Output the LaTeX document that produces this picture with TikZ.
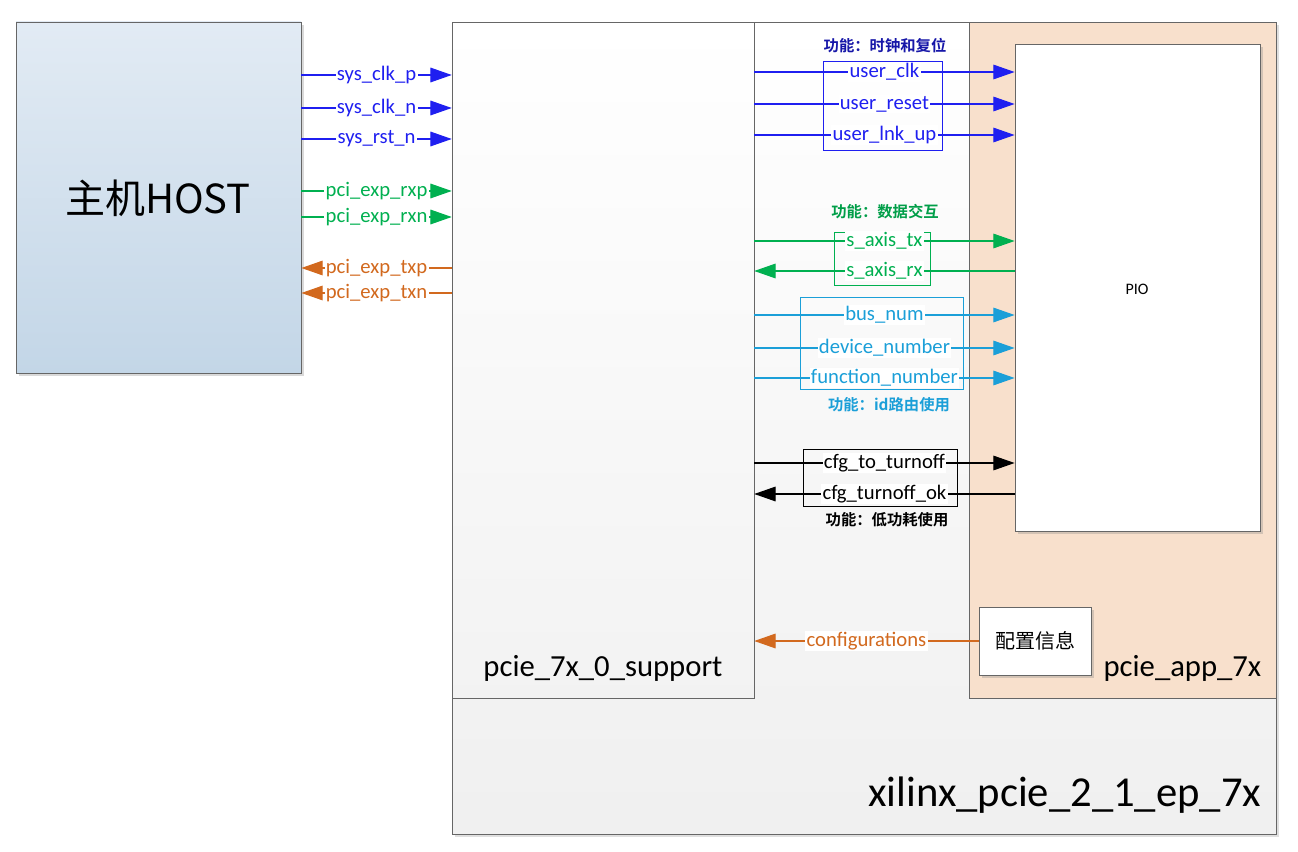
\documentclass[tikz,border=0pt]{standalone}
\usepackage{fontspec}
\setmainfont{Carlito}
\newfontfamily\cjk{Noto Sans CJK SC}[BoldFont={Noto Sans CJK SC Bold}]
\usetikzlibrary{arrows.meta,shadows}
\definecolor{cblue}{HTML}{1F1FF0}
\definecolor{cgreen}{HTML}{00B050}
\definecolor{corange}{HTML}{D2691E}
\definecolor{ccyan}{HTML}{1B9FD8}
\definecolor{peach}{HTML}{F8E0CC}
\definecolor{hosttop}{HTML}{E2EBF4}
\definecolor{hostbot}{HTML}{C3D6E7}
\begin{document}
\begin{tikzpicture}[x=0.75pt,y=-0.75pt,
  box/.style={draw=gray!80!black,line width=0.6pt,inner sep=0pt},
  sig/.style={line width=0.8pt,-{Triangle[length=16pt,width=11pt]}},
  lab/.style={fill=white,inner sep=1pt,font=\fontsize{15.5}{16}\selectfont},
  ttl/.style={font=\cjk\bfseries\fontsize{11.5}{12}\selectfont},
  grp/.style={draw,line width=0.6pt}]
\useasboundingbox (0,0) rectangle (1298,852);
% boxes
\path[box,top color=white,bottom color=gray!12,drop shadow={opacity=0.25,shadow xshift=2pt,shadow yshift=-2pt}]
  (452,22) rectangle (1276,834);
\node[anchor=south east,font=\fontsize{32}{34}\selectfont] (xl) at (1266,818) {xilinx\_pcie\_2\_1\_ep\_7x};
\path[box,top color=white,bottom color=gray!10] (452,22) rectangle (754,698);
\node (sup) at (603,360) [minimum width=302*0.75pt,minimum height=676*0.75pt] {};
\node[anchor=south,font=\fontsize{23}{25}\selectfont] (supl) at (603,686) {pcie\_7x\_0\_support};
\path[box,fill=peach] (969,22) rectangle (1276,698);
\node[anchor=south east,font=\fontsize{23}{25}\selectfont] (appl) at (1266,686) {pcie\_app\_7x};
\node[box,fill=white,drop shadow={opacity=0.3,shadow xshift=2pt,shadow yshift=-2pt},minimum width=245*0.75pt,minimum height=487*0.75pt] (pio) at (1137.5,287.5) {};
\node[font=\fontsize{12}{13}\selectfont] at (1137,289) {PIO};
\node[box,fill=white,drop shadow={opacity=0.3,shadow xshift=2pt,shadow yshift=-2pt},minimum width=112*0.75pt,minimum height=68*0.75pt,font=\cjk\fontsize{15}{16}\selectfont] (cfg) at (1035,641) {配置信息};
\node[box,top color=hosttop,bottom color=hostbot,drop shadow={opacity=0.3,shadow xshift=2pt,shadow yshift=-2pt},minimum width=285*0.75pt,minimum height=351*0.75pt] (host) at (158.5,197.5) {};
\node[font=\cjk\fontsize{30}{32}\selectfont] at (158,198) {主机HOST};
% left signals
\foreach \y/\t in {75/sys\_clk\_p,108/sys\_clk\_n,139/sys\_rst\_n}
  \draw[sig,cblue] (host.east|-0,\y) -- node[lab]{\t} (sup.west|-0,\y);
\foreach \y/\t in {191/pci\_exp\_rxp,217/pci\_exp\_rxn}
  \draw[sig,cgreen] (host.east|-0,\y) -- node[lab]{\t} (sup.west|-0,\y);
\foreach \y/\t in {268/pci\_exp\_txp,293/pci\_exp\_txn}
  \draw[sig,corange] (sup.west|-0,\y) -- node[lab]{\t} (host.east|-0,\y);
% right signals
\draw[grp,cblue] (823,61) rectangle (942,150);
\node[ttl,text=cblue!70!black] at (885,46) {功能：时钟和复位};
\foreach \y/\t in {72/user\_clk,104/user\_reset,135/user\_lnk\_up}
  \draw[sig,cblue] (sup.east|-0,\y) -- node[lab]{\t} (pio.west|-0,\y);
\draw[grp,cgreen] (834,232) rectangle (930,285);
\node[ttl,text=cgreen!90!black] at (885,212) {功能：数据交互};
\draw[sig,cgreen] (sup.east|-0,241) -- node[lab]{s\_axis\_tx} (pio.west|-0,241);
\draw[sig,cgreen] (pio.west|-0,271) -- node[lab]{s\_axis\_rx} (sup.east|-0,271);
\draw[grp,ccyan] (800,297) rectangle (963,389);
\node[ttl,text=ccyan] at (889,405) {功能：id路由使用};
\foreach \y/\t in {315/bus\_num,348/device\_number,378/function\_number}
  \draw[sig,ccyan] (sup.east|-0,\y) -- node[lab]{\t} (pio.west|-0,\y);
\draw[grp,black] (803,449) rectangle (957,506);
\node[ttl] at (887,520) {功能：低功耗使用};
\draw[sig,black] (sup.east|-0,463) -- node[lab]{cfg\_to\_turnoff} (pio.west|-0,463);
\draw[sig,black] (pio.west|-0,494) -- node[lab]{cfg\_turnoff\_ok} (sup.east|-0,494);
\draw[sig,corange] (cfg.west) -- node[lab,text=corange]{configurations} (sup.east|-cfg.west);
\end{tikzpicture}
\end{document}
